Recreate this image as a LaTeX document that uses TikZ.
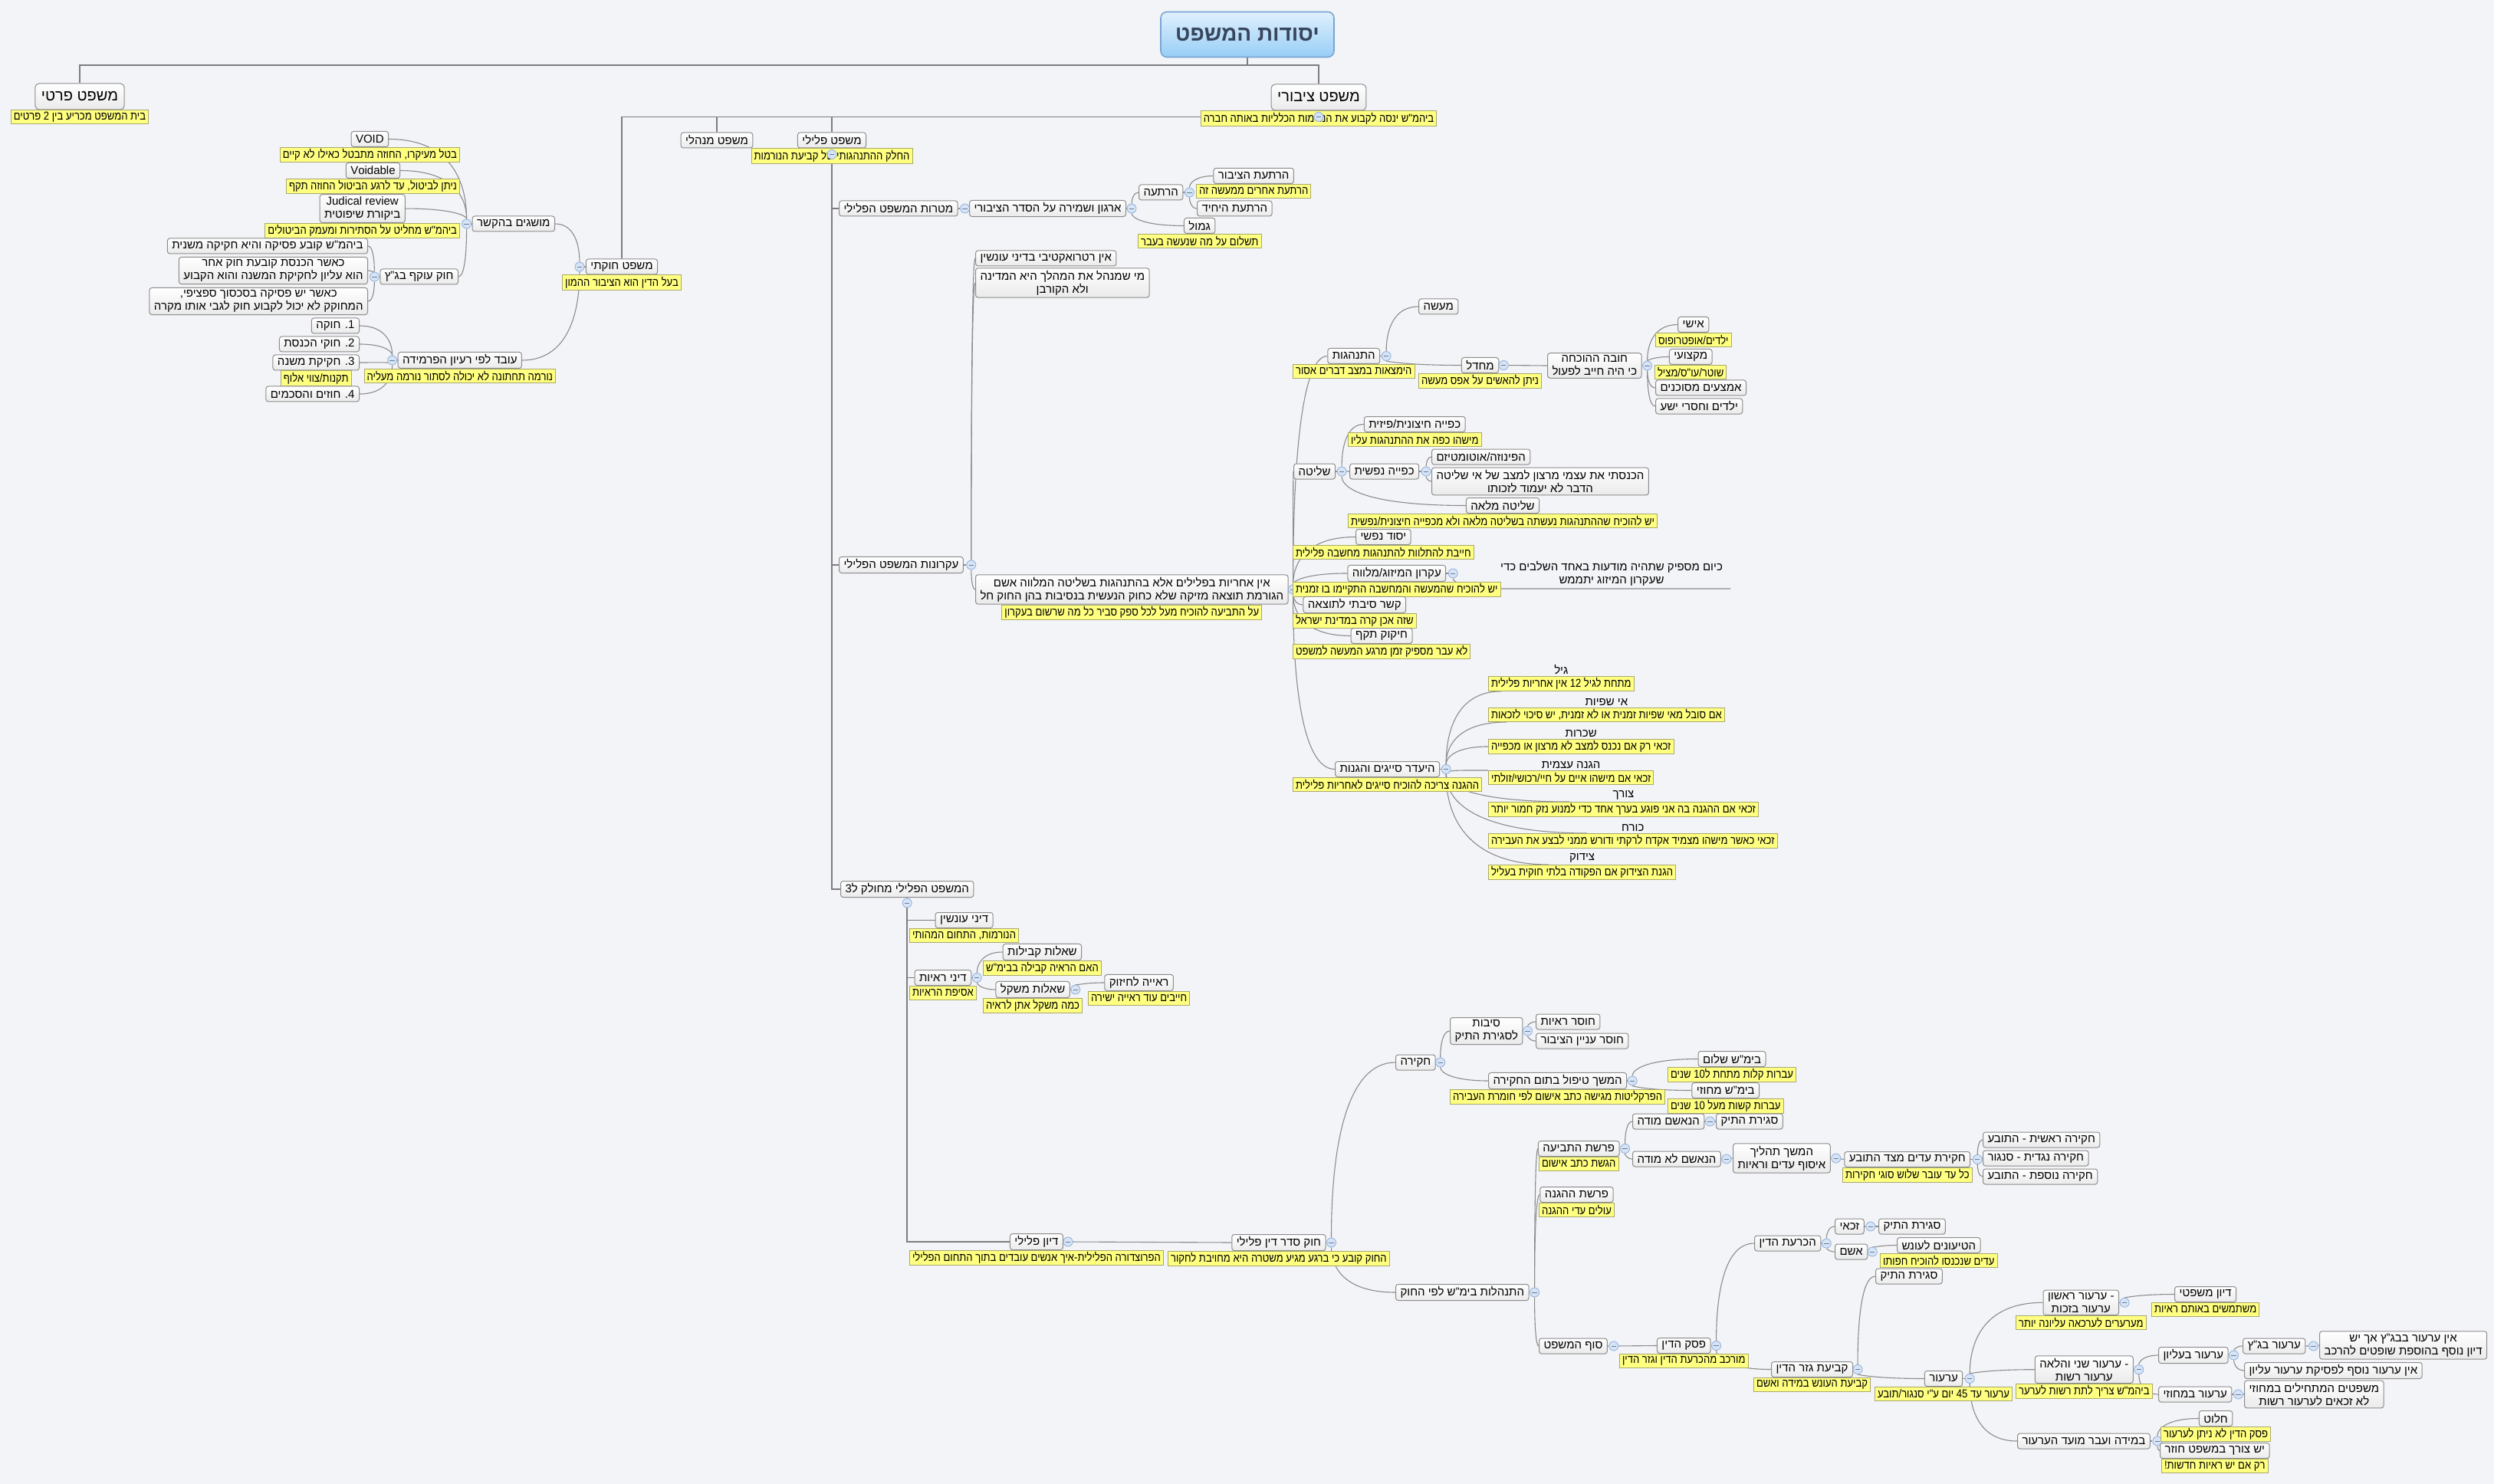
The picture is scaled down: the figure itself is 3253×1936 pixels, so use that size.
\documentclass[tikz,border=0pt]{standalone}
\usepackage{fontspec}
\setmainfont{Liberation Sans}[Script=Hebrew]
\newfontfamily\notefont{Liberation Sans}[Script=Hebrew,FakeStretch=0.87]
\usetikzlibrary{calc,backgrounds}
\TeXXeTstate=1
\definecolor{cBG}{RGB}{243,244,247}
\definecolor{cBox}{RGB}{140,140,140}
\definecolor{cBoxBot}{RGB}{234,234,234}
\definecolor{cNote}{RGB}{255,255,128}
\definecolor{cNoteLine}{RGB}{168,168,110}
\definecolor{cLine}{RGB}{140,140,140}
\definecolor{cTrunk}{RGB}{125,125,125}
\definecolor{cCF}{RGB}{214,228,246}
\definecolor{cCD}{RGB}{150,180,222}
\definecolor{cTitleTop}{RGB}{224,240,253}
\definecolor{cTitleBot}{RGB}{152,206,246}
\definecolor{cTitleLine}{RGB}{120,165,210}
\definecolor{cTitleText}{RGB}{55,70,92}
\tikzset{
 base/.style={font=\fontsize{7.5}{8.6}\selectfont, align=center, text=black},
 bx/.style={base, draw=cBox, line width=0.5pt, rounded corners=1.6pt, top color=white, bottom color=cBoxBot, inner xsep=3pt, inner ysep=1.5pt, minimum height=10pt},
 big/.style={bx, font=\fontsize{10}{12}\selectfont, minimum height=17pt, inner xsep=4pt, rounded corners=2.5pt},
 nt/.style={base, font=\notefont\fontsize{7.5}{8.6}\selectfont, draw=cNoteLine, line width=0.45pt, fill=cNote, inner xsep=1.8pt, inner ysep=1pt, minimum height=9pt},
 lbl/.style={base, inner xsep=1pt, inner ysep=1pt},
 ccirc/.style={circle, draw=cCD, fill=cCF, line width=0.45pt, minimum size=6pt, inner sep=0pt, path picture={\draw[cCD!70!black, line width=0.45pt] ([xshift=-1.6pt]path picture bounding box.center) -- ([xshift=1.6pt]path picture bounding box.center);}},
 conn/.style={draw=cLine, line width=0.55pt},
 trunk/.style={draw=cTrunk, line width=0.75pt},
 cv/.style={to path={.. controls ($(\tikztostart)!0.55!(\tikztostart|-\tikztotarget)$) and ($(\tikztotarget)!0.75!(\tikztostart|-\tikztotarget)$) .. (\tikztotarget)}},
 ttl/.style={draw=cTitleLine, line width=0.8pt, rounded corners=4pt, top color=cTitleTop, bottom color=cTitleBot, font=\bfseries\fontsize{14}{16}\selectfont, text=cTitleText, minimum width=113pt, minimum height=29.5pt}
}
\newcommand{\grpR}[5]{\node[nt,anchor=north west] (#1n) at (#2,#3) {#5}; \node[bx,anchor=south] (#1) at (#1n.north) {#4};}
\newcommand{\grpL}[5]{\node[nt,anchor=north east] (#1n) at (#2,#3) {#5}; \node[bx,anchor=south] (#1) at (#1n.north) {#4};}
\newcommand{\grpT}[5]{\node[nt,anchor=north west] (#1n) at (#2,#3) {#5}; \node[lbl,anchor=south] (#1) at (#1n.north) {#4};}
\begin{document}
\begin{tikzpicture}[x=0.5pt,y=-0.5pt]
\path[use as bounding box] (0,0) rectangle (3253,1936);
% top
\node[ttl] (root) at (1627,45) {\beginR יסודות המשפט\endR};
\node[big] (priv) at (104,126) {\beginR משפט פרטי\endR};
\node[nt,anchor=north] (privn) at (priv.south) {\beginR בית המשפט מכריע בין 2 פרטים\endR};
\node[big] (pub) at (1720,127) {\beginR משפט ציבורי\endR};
\node[nt,anchor=north] (pubn) at (pub.south) {\beginR ביהמ"ש ינסה לקבוע את הנורמות הכלליות באותה חברה\endR};
\node[ccirc] (pubc) at ($(pub.south)+(0,8)$) {};
\node[bx] (hukati) at (811,348) {\beginR משפט חוקתי\endR};
\node[nt,anchor=north] (hukatin) at (hukati.south) {\beginR בעל הדין הוא הציבור ההמון\endR};
\node[ccirc] (hukc) at ($(hukati.west)+(-8,0)$) {};
\node[bx] (minhali) at (935,183) {\beginR משפט מנהלי\endR};
\node[bx] (plili) at (1085,183) {\beginR משפט פלילי\endR};
\node[nt,anchor=north] (plilin) at (plili.south) {\beginR החלק ההתנהגותי של קביעת הנורמות\endR};
\node[ccirc] (plc) at ($(plili.south)+(0,8)$) {};
% left
\node[bx,anchor=east] (musagim) at (724,292) {\beginR מושגים בהקשר\endR};
\node[ccirc] (musc) at ($(musagim.west)+(-7,0)$) {};
\grpL{void}{600}{192}{VOID}{\beginR בטל מעיקרו, החוזה מתבטל כאילו לא קיים\endR}
\grpL{voidable}{600}{233}{Voidable}{\beginR ניתן לביטול, עד לרגע הביטול החוזה תקף\endR}
\grpL{jr}{600}{291}{Judical review\\\beginR ביקורת שיפוטית\endR}{\beginR ביהמ"ש מחליט על הסתירות ומעמק הביטולים\endR}
\node[bx,anchor=east] (okef) at (598,361) {\beginR חוק עוקף בג"ץ\endR};
\node[ccirc] (okc) at ($(okef.west)+(-7,0)$) {};
\node[bx,anchor=east] (ok1) at (480,321) {\beginR ביהמ"ש קובע פסיקה והיא חקיקה משנית\endR};
\node[bx,anchor=east] (ok2) at (480,353) {\beginR כאשר הכנסת קובעת חוק אחר\endR\\\beginR הוא עליון לחקיקת המשנה והוא הקבוע\endR};
\node[bx,anchor=east] (ok3) at (480,393) {\beginR כאשר יש פסיקה בסכסוך ספציפי,\endR\\\beginR המחוקק לא יכול לקבוע חוק לגבי אותו מקרה\endR};
\grpL{pyramid}{725}{481}{\beginR עובד לפי רעיון הפרמידה\endR}{\beginR נורמה תחתונה לא יכולה לסתור נורמה מעליה\endR}
\node[ccirc] (pyrc) at ($(pyramid.west)+(-7,0)$) {};
\node[bx,anchor=east] (p1) at (469,425) {\beginR 1\kern0pt. חוקה\endR};
\node[bx,anchor=east] (p2) at (469,449) {\beginR 2\kern0pt. חוקי הכנסת\endR};
\node[bx,anchor=east] (p3) at (469,473) {\beginR 3\kern0pt. חקיקת משנה\endR};
\node[nt,anchor=north] (p3n) at (p3.south) {\beginR תקנות/צווי אלוף\endR};
\node[bx,anchor=east] (p4) at (469,514) {\beginR 4\kern0pt. חוזים והסכמים\endR};
% goals
\node[bx,anchor=west] (matarot) at (1094,272) {\beginR מטרות המשפט הפלילי\endR};
\node[ccirc] (matc) at ($(matarot.east)+(9,0)$) {};
\node[bx,anchor=west] (irgun) at (1264,272) {\beginR ארגון ושמירה על הסדר הציבורי\endR};
\node[ccirc] (irgc) at ($(irgun.east)+(7,0)$) {};
\node[bx,anchor=west] (harta) at (1485,251) {\beginR הרתעה\endR};
\node[ccirc] (hartc) at ($(harta.east)+(8,0)$) {};
\grpR{gmul}{1484}{305}{\beginR גמול\endR}{\beginR תשלום על מה שנעשה בעבר\endR}
\grpR{hartz}{1560}{240}{\beginR הרתעת הציבור\endR}{\beginR הרתעת אחרים ממעשה זה\endR}
\node[bx,anchor=west] (hartyah) at (1561,272) {\beginR הרתעת היחיד\endR};
% principles
\node[bx,anchor=west] (ekronot) at (1094,737) {\beginR עקרונות המשפט הפלילי\endR};
\node[ccirc] (ekc) at ($(ekronot.east)+(10,0)$) {};
\node[bx,anchor=west] (retro) at (1272,337) {\beginR אין רטרואקטיבי בדיני עונשין\endR};
\node[bx,anchor=west] (minhal) at (1272,369) {\beginR מי שמנהל את המהלך היא המדינה\endR\\\beginR ולא הקורבן\endR};
\node[bx,anchor=west] (ein) at (1272,769) {\beginR אין אחריות בפלילים אלא בהתנהגות בשליטה המלווה אשם\endR\\\beginR הגורמת תוצאה מזיקה שלא כחוק הנעשית בנסיבות בהן החוק חל\endR};
\node[nt,anchor=north] (einn) at (ein.south) {\beginR על התביעה להוכיח מעל לכל ספק סביר כל מה שרשום בעקרון\endR};
\node[ccirc] (einc) at ($(ein.east)+(6,0)$) {};
\grpR{hitn}{1686}{475}{\beginR התנהגות\endR}{\beginR הימצאות במצב דברים אסור\endR}
\node[ccirc] (hitnc) at ($(hitn.east)+(8,0)$) {};
\node[bx,anchor=west] (maase) at (1850,400) {\beginR מעשה\endR};
\grpR{mehdal}{1850}{487}{\beginR מחדל\endR}{\beginR ניתן להאשים על אפס מעשה\endR}
\node[ccirc] (mehdc) at ($(mehdal.east)+(6,0)$) {};
\node[bx,anchor=west] (hova) at (2018,477) {\beginR חובה ההוכחה\endR\\\beginR כי היה חייב לפעול\endR};
\node[ccirc] (hovc) at ($(hova.east)+(7,0)$) {};
\grpR{ishi}{2159}{434}{\beginR אישי\endR}{\beginR ילדים/אופטרופוס\endR}
\grpR{miktzoi}{2158}{476}{\beginR מקצועי\endR}{\beginR שוטר/עו"ס/מציל\endR}
\node[bx,anchor=west] (amtzaim) at (2159,506) {\beginR אמצעים מסוכנים\endR};
\node[bx,anchor=west] (yeladim) at (2159,530) {\beginR ילדים וחסרי ישע\endR};
\node[bx,anchor=west] (shlita) at (1687,615) {\beginR שליטה\endR};
\node[ccirc] (shlc) at ($(shlita.east)+(8,0)$) {};
\grpR{hitz}{1758}{564}{\beginR כפייה חיצונית/פיזית\endR}{\beginR מישהו כפה את ההתנהגות עליו\endR}
\node[bx,anchor=west] (nafshit) at (1760,615) {\beginR כפייה נפשית\endR};
\node[ccirc] (nafc) at ($(nafshit.east)+(9,0)$) {};
\node[bx,anchor=west] (hipnoza) at (1867,596) {\beginR הפינוזה/אוטומטיזם\endR};
\node[bx,anchor=west] (hiknasti) at (1867,628) {\beginR הכנסתי את עצמי מרצון למצב של אי שליטה\endR\\\beginR הדבר לא יעמוד לזכותו\endR};
\grpR{mlea}{1758}{670}{\beginR שליטה מלאה\endR}{\beginR יש להוכיח שההתנהגות נעשתה בשליטה מלאה ולא מכפייה חיצונית/נפשית\endR}
\grpR{yesod}{1686}{711}{\beginR יסוד נפשי\endR}{\beginR חייבת להתלוות להתנהגות מחשבה פלילית\endR}
\grpR{mizug}{1686}{759}{\beginR עקרון המיזוג/מלווה\endR}{\beginR יש להוכיח שהמעשה והמחשבה התקיימו בו זמנית\endR}
\node[ccirc] (mizc) at ($(mizug.east)+(9,0)$) {};
\node[lbl,anchor=south,inner xsep=5pt,inner ysep=1.5pt] (kiyum) at (2102,768) {\beginR כיום מספיק שתהיה מודעות באחד השלבים כדי\endR\\\beginR שעקרון המיזוג יתממש\endR};
\grpR{kesher}{1686}{800}{\beginR קשר סיבתי לתוצאה\endR}{\beginR שזה אכן קרה במדינת ישראל\endR}
\grpR{hikuk}{1686}{840}{\beginR חיקוק תקף\endR}{\beginR לא עבר מספיק זמן מרגע המעשה למשפט\endR}
\grpR{heeder}{1686}{1014}{\beginR היעדר סייגים והגנות\endR}{\beginR ההגנה צריכה להוכיח סייגים לאחריות פלילית\endR}
\node[ccirc] (heec) at ($(heeder.east)+(8,0)$) {};
\grpT{gil}{1941}{882}{\beginR גיל\endR}{\beginR מתחת לגיל 12 אין אחריות פלילית\endR}
\grpT{shfiut}{1941}{923}{\beginR אי שפיות\endR}{\beginR אם סובל מאי שפיות זמנית או לא זמנית, יש סיכוי לזכאות\endR}
\grpT{shikrut}{1941}{964}{\beginR שכרות\endR}{\beginR זכאי רק אם נכנס למצב לא מרצון או מכפייה\endR}
\grpT{atzmit}{1941}{1005}{\beginR הגנה עצמית\endR}{\beginR זכאי אם מישהו איים על חיי/רכושי/זולתי\endR}
\grpT{tzorech}{1941}{1046}{\beginR צורך\endR}{\beginR זכאי אם ההגנה בה אני פוגע בערך אחד כדי למנוע נזק חמור יותר\endR}
\grpT{koreh}{1941}{1087}{\beginR כורח\endR}{\beginR זכאי כאשר מישהו מצמיד אקדח לרקתי ודורש ממני לבצע את העבירה\endR}
\grpT{tziduk}{1941}{1128}{\beginR צידוק\endR}{\beginR הגנת הצידוק אם הפקודה בלתי חוקית בעליל\endR}
% divided into 3
\node[bx,anchor=west] (mehulak) at (1096,1160) {\beginR המשפט הפלילי מחולק ל\beginL 3\endL\endR};
\node[ccirc] (mhc) at ($(mehulak.south)+(0,7)$) {};
\grpR{onshin}{1186}{1211}{\beginR דיני עונשין\endR}{\beginR הנורמות, התחום המהותי\endR}
\grpR{reayot}{1186}{1286}{\beginR דיני ראיות\endR}{\beginR אסיפת הראיות\endR}
\node[ccirc] (reac) at ($(reayot.east)+(7,0)$) {};
\grpR{kvilut}{1282}{1253}{\beginR שאלות קבילות\endR}{\beginR האם הראיה קבילה בבימ"ש\endR}
\grpR{mishkal}{1282}{1302}{\beginR שאלות משקל\endR}{\beginR כמה משקל אתן לראיה\endR}
\node[ccirc] (misc) at ($(mishkal.east)+(7,0)$) {};
\grpR{hizuk}{1419}{1293}{\beginR ראייה לחיזוק\endR}{\beginR חייבים עוד ראייה ישירה\endR}
\grpR{dion}{1186}{1631}{\beginR דיון פלילי\endR}{\beginR הפרוצדורה הפלילית-איך אנשים עובדים בתוך התחום הפלילי\endR}
\node[ccirc] (dionc) at ($(dion.east)+(6,0)$) {};
\grpR{hok}{1523}{1632}{\beginR חוק סדר דין פלילי\endR}{\beginR החוק קובע כי ברגע מגיע משטרה היא מחויבת לחקור\endR}
\node[ccirc] (hokc) at ($(hok.east)+(7,0)$) {};
\node[bx,anchor=west] (hakira) at (1820,1386) {\beginR חקירה\endR};
\node[ccirc] (hakc) at ($(hakira.east)+(6,0)$) {};
\node[bx,anchor=west] (svivot) at (1891,1345) {\beginR סיבות\endR\\\beginR לסגירת התיק\endR};
\node[ccirc] (svc) at ($(svivot.east)+(6,0)$) {};
\node[bx,anchor=west] (hoser1) at (2003,1333) {\beginR חוסר ראיות\endR};
\node[bx,anchor=west] (hoser2) at (2003,1358) {\beginR חוסר עניין הציבור\endR};
\grpR{hemshech}{1891}{1421}{\beginR המשך טיפול בתום החקירה\endR}{\beginR הפרקליטות מגישה כתב אישום לפי חומרת העבירה\endR}
\node[ccirc] (hemc) at ($(hemshech.east)+(7,0)$) {};
\grpR{shalom}{2175}{1392}{\beginR בימ"ש שלום\endR}{\beginR עברות קלות מתחת ל\beginL 10\endL{} שנים\endR}
\grpR{mehozi}{2175}{1433}{\beginR בימ"ש מחוזי\endR}{\beginR עברות קשות מעל 10 שנים\endR}
\node[bx,anchor=west] (hitnahalut) at (1820,1686) {\beginR התנהלות בימ"ש לפי החוק\endR};
\node[ccirc] (hitc) at ($(hitnahalut.east)+(7,0)$) {};
\grpR{tviah}{2007}{1509}{\beginR פרשת התביעה\endR}{\beginR הגשת כתב אישום\endR}
\node[ccirc] (tvc) at ($(tviah.east)+(7,0)$) {};
\node[bx,anchor=west] (moda) at (2129,1463) {\beginR הנאשם מודה\endR};
\node[ccirc] (modc) at ($(moda.east)+(7,0)$) {};
\node[bx,anchor=west] (sgira1) at (2238,1463) {\beginR סגירת התיק\endR};
\node[bx,anchor=west] (lomoda) at (2129,1512) {\beginR הנאשם לא מודה\endR};
\node[ccirc] (lmc) at ($(lomoda.east)+(7,0)$) {};
\node[bx,anchor=west] (tahalich) at (2260,1511) {\beginR המשך תהליך\endR\\\beginR איסוף עדים וראיות\endR};
\node[ccirc] (tahc) at ($(tahalich.east)+(7,0)$) {};
\grpR{edim}{2403}{1523}{\beginR חקירת עדים מצד התובע\endR}{\beginR כל עד עובר שלוש סוגי חקירות\endR}
\node[ccirc] (edc) at ($(edim.east)+(9,0)$) {};
\node[bx,anchor=west] (hq1) at (2586,1487) {\beginR חקירה ראשית - התובע\endR};
\node[bx,anchor=west] (hq2) at (2586,1511) {\beginR חקירה נגדית - סנגור\endR};
\node[bx,anchor=west] (hq3) at (2586,1535) {\beginR חקירה נוספת - התובע\endR};
\grpR{hagana}{2007}{1569}{\beginR פרשת ההגנה\endR}{\beginR עולים עדי ההגנה\endR}
\node[bx,anchor=west] (sof) at (2007,1756) {\beginR סוף המשפט\endR};
\node[ccirc] (sofc) at ($(sof.east)+(8,0)$) {};
\grpR{psak}{2112}{1766}{\beginR פסק הדין\endR}{\beginR מורכב מהכרעת הדין וגזר הדין\endR}
\node[ccirc] (psc) at ($(psak.east)+(7,0)$) {};
\node[bx,anchor=west] (hachraa) at (2288,1622) {\beginR הכרעת הדין\endR};
\node[ccirc] (hacc) at ($(hachraa.east)+(7,0)$) {};
\node[bx,anchor=west] (zakai) at (2393,1600) {\beginR זכאי\endR};
\node[ccirc] (zkc) at ($(zakai.east)+(8,0)$) {};
\node[bx,anchor=west] (sgira2) at (2450,1600) {\beginR סגירת התיק\endR};
\node[bx,anchor=west] (ashem) at (2393,1633) {\beginR אשם\endR};
\node[ccirc] (asc) at ($(ashem.east)+(6,0)$) {};
\grpR{tiunim}{2452}{1635}{\beginR הטיעונים לעונש\endR}{\beginR עדים שנכנסו להוכיח חפותו\endR}
\grpR{gzar}{2287}{1797}{\beginR קביעת גזר הדין\endR}{\beginR קביעת העונש במידה ואשם\endR}
\node[ccirc] (gzc) at ($(gzar.east)+(6,0)$) {};
\node[bx,anchor=west] (sgira3) at (2446,1665) {\beginR סגירת התיק\endR};
\grpR{irur}{2445}{1809}{\beginR ערעור\endR}{\beginR ערעור עד 45 יום ע"י סנגור/תובע\endR}
\node[ccirc] (irc) at ($(irur.east)+(9,0)$) {};
\node[nt,anchor=north west] (rishonn) at (2629,1716) {\beginR מערערים לערכאה עליונה יותר\endR};
\node[bx,anchor=south] (rishon) at (rishonn.north) {\beginR - ערעור ראשון\endR\\\beginR ערעור בזכות\endR};
\node[ccirc] (rsc) at ($(rishon.east)+(7,0)$) {};
\grpR{mishpati}{2806}{1699}{\beginR דיון משפטי\endR}{\beginR משתמשים באותם ראיות\endR}
\node[nt,anchor=north west] (shenin) at (2629,1805) {\beginR ביהמ"ש צריך לתת רשות לערער\endR};
\node[bx,anchor=south] (sheni) at (shenin.north) {\beginR - ערעור שני והלאה\endR\\\beginR ערעור רשות\endR};
\node[ccirc] (shc) at ($(sheni.east)+(7,0)$) {};
\node[bx,anchor=west] (elyon) at (2815,1768) {\beginR ערעור בעליון\endR};
\node[ccirc] (elc) at ($(elyon.east)+(7,0)$) {};
\node[bx,anchor=west] (bagatz) at (2925,1756) {\beginR ערעור בג"ץ\endR};
\node[ccirc] (bgzc) at ($(bagatz.east)+(10,0)$) {};
\node[bx,anchor=west] (bagatz2) at (3025,1755) {\beginR אין ערעור בבג"ץ אך יש\endR\\\beginR דיון נוסף בהוספת שופטים להרכב\endR};
\node[bx,anchor=west] (nosaf) at (2927,1788) {\beginR אין ערעור נוסף לפסיקת ערעור עליון\endR};
\node[bx,anchor=west] (mahozi2) at (2815,1819) {\beginR ערעור במחוזי\endR};
\node[ccirc] (mhzc) at ($(mahozi2.east)+(8,0)$) {};
\node[bx,anchor=west] (mathilim) at (2927,1819) {\beginR משפטים המתחילים במחוזי\endR\\\beginR לא זכאים לערעור רשות\endR};
\node[bx,anchor=west] (moed) at (2631,1880) {\beginR במידה ועבר מועד הערעור\endR};
\node[ccirc] (moc) at ($(moed.east)+(9,0)$) {};
\grpR{halut}{2818}{1861}{\beginR חלוט\endR}{\beginR פסק הדין לא ניתן לערעור\endR}
\grpR{hozer}{2819}{1903}{\beginR יש צורך במשפט חוזר\endR}{\beginR רק אם יש ראיות חדשות!\endR}
% connectors
\begin{scope}[on background layer]
\fill[cBG] (0,0) rectangle (3253,1936);
\coordinate (hub) at (1627,85);
\draw[trunk] (root.south) -- (hub);
\draw[trunk] (priv.north) |- (hub);
\draw[trunk] (pub.north) |- (hub);
\draw[trunk] (hukati.north) |- (pubc);
\draw[trunk] (minhali.north) |- (pubc);
\draw[trunk] (plili.north) |- (pubc);
\draw[conn] (hukati.west) -- (hukc);
\draw[conn] (hukc) to[cv] (musagim.east);
\draw[conn] (hukc) to[cv] (pyramid.east);
\draw[conn] (musagim.west) -- (musc);
\foreach \t in {void,voidable,jr,okef} \draw[conn] (musc) to[cv] (\t.east);
\draw[conn] (okef.west) -- (okc);
\foreach \t in {ok1,ok2,ok3} \draw[conn] (okc) to[cv] (\t.east);
\draw[conn] (pyramid.west) -- (pyrc);
\foreach \t in {p1,p2,p3,p4} \draw[conn] (pyrc) to[cv] (\t.east);
\draw[trunk] (matarot.west) -| (plc);
\draw[trunk] (ekronot.west) -| (plc);
\draw[trunk] (mehulak.west) -| (plc);
\draw[conn] (matarot.east) -- (matc) -- (irgun.west);
\draw[conn] (irgun.east) -- (irgc);
\draw[conn] (irgc) to[cv] (harta.west);
\draw[conn] (irgc) to[cv] (gmul.west);
\draw[conn] (harta.east) -- (hartc);
\draw[conn] (hartc) to[cv] (hartz.west);
\draw[conn] (hartc) to[cv] (hartyah.west);
\draw[conn] (ekronot.east) -- (ekc);
\foreach \t in {retro,minhal,ein} \draw[conn] (ekc) to[cv] (\t.west);
\draw[conn] (ein.east) -- (einc);
\foreach \t in {hitn,shlita,yesod,mizug,kesher,hikuk,heeder} \draw[conn] (einc) to[cv] (\t.west);
\draw[conn] (hitn.east) -- (hitnc);
\draw[conn] (hitnc) to[cv] (maase.west);
\draw[conn] (hitnc) to[cv] (mehdal.west);
\draw[conn] (mehdal.east) -- (mehdc) -- (hova.west);
\draw[conn] (hova.east) -- (hovc);
\foreach \t in {ishi,miktzoi,amtzaim,yeladim} \draw[conn] (hovc) to[cv] (\t.west);
\draw[conn] (shlita.east) -- (shlc);
\foreach \t in {hitz,nafshit,mlea} \draw[conn] (shlc) to[cv] (\t.west);
\draw[conn] (nafshit.east) -- (nafc);
\draw[conn] (nafc) to[cv] (hipnoza.west);
\draw[conn] (nafc) to[cv] (hiknasti.west);
\draw[conn] (mizug.east) -- (mizc);
\draw[conn] (mizc) to[cv] (kiyum.south west) -- (kiyum.south east);
\draw[conn] (heeder.east) -- (heec);
\coordinate (gilT) at ($(giln.south west)+(17,0)$);
\coordinate (shfiutT) at ($(shfiutn.south west)+(24,0)$);
\coordinate (tzorechT) at ($(tzorechn.north west)+(106,0)$);
\coordinate (korehT) at ($(korehn.north west)+(129,0)$);
\coordinate (tzidukT) at ($(tzidukn.north west)+(79,0)$);
\draw[conn] (heec) to[cv] (gilT);
\draw[conn] (heec) to[cv] (shfiutT);
\draw[conn] (heec) to[cv] (shikrutn.west);
\draw[conn] (heec) to[cv] (atzmitn.north west);
\draw[conn] (heec) to[cv] (tzorechT);
\draw[conn] (heec) to[cv] (korehT);
\draw[conn] (heec) to[cv] (tzidukT);
\draw[conn] (mehulak.south) -- (mhc);
\draw[trunk] (onshin.west) -| (mhc);
\draw[trunk] (reayot.west) -| (mhc);
\draw[trunk] (dion.west) -| (mhc);
\draw[conn] (reayot.east) -- (reac);
\draw[conn] (reac) to[cv] (kvilut.west);
\draw[conn] (reac) to[cv] (mishkal.west);
\draw[conn] (mishkal.east) -- (misc);
\draw[conn] (misc) to[cv] (hizuk.west);
\draw[conn] (dion.east) -- (dionc) -- (hok.west);
\draw[conn] (hok.east) -- (hokc);
\draw[conn] (hokc) to[cv] (hakira.west);
\draw[conn] (hokc) to[cv] (hitnahalut.west);
\draw[conn] (hakira.east) -- (hakc);
\draw[conn] (hakc) to[cv] (svivot.west);
\draw[conn] (hakc) to[cv] (hemshech.west);
\draw[conn] (svivot.east) -- (svc);
\draw[conn] (svc) to[cv] (hoser1.west);
\draw[conn] (svc) to[cv] (hoser2.west);
\draw[conn] (hemshech.east) -- (hemc);
\draw[conn] (hemc) to[cv] (shalom.west);
\draw[conn] (hemc) to[cv] (mehozi.west);
\draw[conn] (hitnahalut.east) -- (hitc);
\foreach \t in {tviah,hagana,sof} \draw[conn] (hitc) to[cv] (\t.west);
\draw[conn] (tviah.east) -- (tvc);
\draw[conn] (tvc) to[cv] (moda.west);
\draw[conn] (tvc) to[cv] (lomoda.west);
\draw[conn] (moda.east) -- (modc) -- (sgira1.west);
\draw[conn] (lomoda.east) -- (lmc) -- (tahalich.west);
\draw[conn] (tahalich.east) -- (tahc) -- (edim.west);
\draw[conn] (edim.east) -- (edc);
\foreach \t in {hq1,hq2,hq3} \draw[conn] (edc) to[cv] (\t.west);
\draw[conn] (sof.east) -- (sofc) -- (psak.west);
\draw[conn] (psak.east) -- (psc);
\draw[conn] (psc) to[cv] (hachraa.west);
\draw[conn] (psc) to[cv] (gzar.west);
\draw[conn] (hachraa.east) -- (hacc);
\draw[conn] (hacc) to[cv] (zakai.west);
\draw[conn] (hacc) to[cv] (ashem.west);
\draw[conn] (zakai.east) -- (zkc) -- (sgira2.west);
\draw[conn] (ashem.east) -- (asc);
\draw[conn] (asc) to[cv] (tiunim.west);
\draw[conn] (gzar.east) -- (gzc);
\draw[conn] (gzc) to[cv] (sgira3.west);
\draw[conn] (gzc) to[cv] (irur.west);
\draw[conn] (irur.east) -- (irc);
\foreach \t in {rishon,sheni,moed} \draw[conn] (irc) to[cv] (\t.west);
\draw[conn] (rishon.east) -- (rsc);
\draw[conn] (rsc) to[cv] (mishpati.west);
\draw[conn] (sheni.east) -- (shc);
\draw[conn] (shc) to[cv] (elyon.west);
\draw[conn] (shc) to[cv] (mahozi2.west);
\draw[conn] (elyon.east) -- (elc);
\draw[conn] (elc) to[cv] (bagatz.west);
\draw[conn] (elc) to[cv] (nosaf.west);
\draw[conn] (bagatz.east) -- (bgzc) -- (bagatz2.west);
\draw[conn] (mahozi2.east) -- (mhzc) -- (mathilim.west);
\draw[conn] (moed.east) -- (moc);
\draw[conn] (moc) to[cv] (halut.west);
\draw[conn] (moc) to[cv] (hozer.west);
\end{scope}
\end{tikzpicture}
\end{document}
